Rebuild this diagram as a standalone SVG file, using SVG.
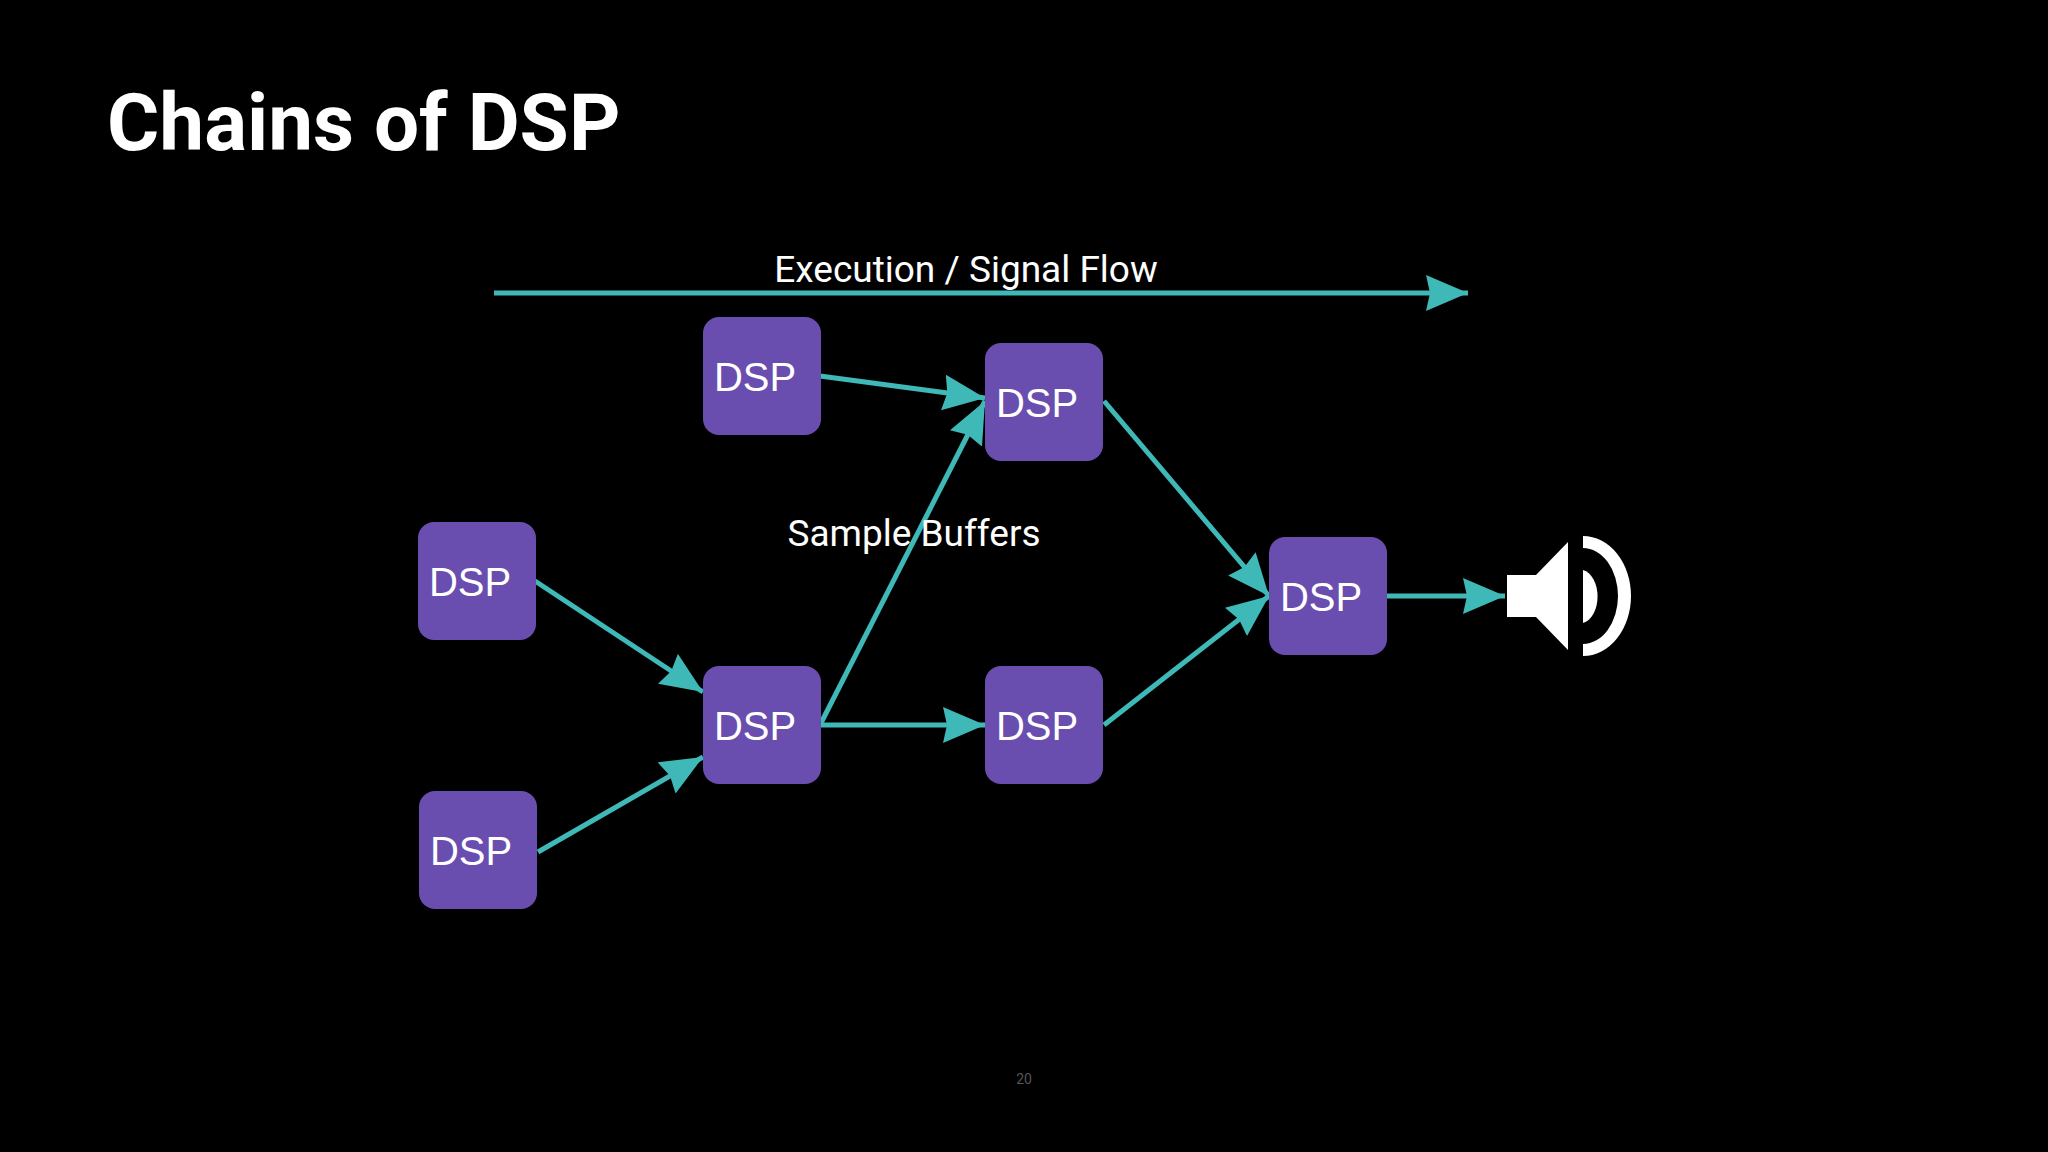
<svg xmlns="http://www.w3.org/2000/svg" width="2048" height="1152" viewBox="0 0 2048 1152">
<style>
.box{fill:#6a4eaf}
.lbl{fill:#fff;font-family:"Liberation Sans",Arial,sans-serif;font-size:40px;text-anchor:middle}
.edge{stroke:#3fb8b8;stroke-width:5;fill:none;marker-end:url(#ah)}
.t{fill:#fff;font-family:Roboto,"Liberation Sans",sans-serif}
</style>
<defs>
<marker id="ah" markerUnits="userSpaceOnUse" markerWidth="44" markerHeight="36" refX="42" refY="18" orient="auto"><path d="M0,0 L42,18 L0,36 L4,18 Z" fill="#3fb8b8"/></marker>
</defs>
<rect width="2048" height="1152" fill="#000"/>
<text class="t" x="107" y="150" font-size="80" font-weight="bold">Chains of DSP</text>
<g id="connectors">
<line class="edge" x1="494" y1="293" x2="1468" y2="293"/>
<line class="edge" x1="820" y1="376" x2="985" y2="398"/>
<line class="edge" x1="820" y1="725" x2="985" y2="401"/>
<line class="edge" x1="820" y1="725" x2="985" y2="725"/>
<line class="edge" x1="535" y1="581" x2="703" y2="692"/>
<line class="edge" x1="538" y1="852" x2="703" y2="757"/>
<line class="edge" x1="1104" y1="401" x2="1269" y2="596"/>
<line class="edge" x1="1104" y1="725" x2="1269" y2="596"/>
<line class="edge" x1="1387" y1="596" x2="1505" y2="596"/>
</g>
<text class="t" x="966" y="282" font-size="37" text-anchor="middle">Execution / Signal Flow</text>
<text class="t" x="914" y="546" font-size="37" text-anchor="middle">Sample Buffers</text>
<g id="nA"><rect class="box" x="703" y="317" width="118" height="118" rx="16"/><text class="lbl" x="755" y="391">DSP</text></g>
<g id="nB"><rect class="box" x="985" y="343" width="118" height="118" rx="16"/><text class="lbl" x="1037" y="417">DSP</text></g>
<g id="nC"><rect class="box" x="418" y="522" width="118" height="118" rx="16"/><text class="lbl" x="470" y="596">DSP</text></g>
<g id="nD"><rect class="box" x="703" y="666" width="118" height="118" rx="16"/><text class="lbl" x="755" y="740">DSP</text></g>
<g id="nE"><rect class="box" x="985" y="666" width="118" height="118" rx="16"/><text class="lbl" x="1037" y="740">DSP</text></g>
<g id="nF"><rect class="box" x="1269" y="537" width="118" height="118" rx="16"/><text class="lbl" x="1321" y="611">DSP</text></g>
<g id="nG"><rect class="box" x="419" y="791" width="118" height="118" rx="16"/><text class="lbl" x="471" y="865">DSP</text></g>
<g id="speaker" fill="#fff">
<path d="M1507,575 L1536,575 L1568,542 L1568,650 L1536,617 L1507,617 Z"/>
<path d="M1583,570 A18,27 0 0 1 1583,623 Z"/>
<path d="M1583,536 A48,60 0 0 1 1583,656 L1583,644 A35,48 0 0 0 1583,548 Z"/>
</g>
<text x="1024" y="1084" font-family="Roboto,'Liberation Sans',sans-serif" font-size="14" fill="#555" text-anchor="middle">20</text>
</svg>
